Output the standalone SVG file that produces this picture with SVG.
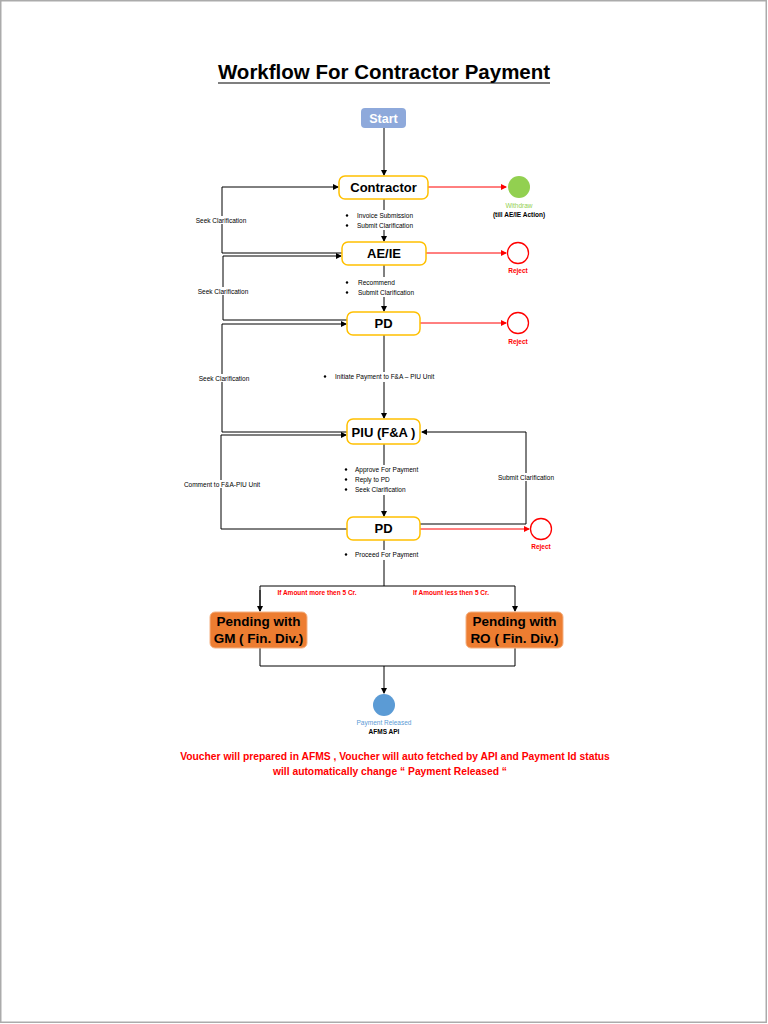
<svg xmlns="http://www.w3.org/2000/svg" width="768" height="1024" viewBox="0 0 768 1024">
<defs>
<marker id="ab" markerWidth="6" markerHeight="6" refX="5" refY="3" orient="auto" markerUnits="userSpaceOnUse"><path d="M0,0 L6,3 L0,6 z" fill="#000"/></marker>
<marker id="ar" markerWidth="6" markerHeight="6" refX="5" refY="3" orient="auto" markerUnits="userSpaceOnUse"><path d="M0,0 L6,3 L0,6 z" fill="#FF0000"/></marker>
<style>
text{font-family:"Liberation Sans",Arial,sans-serif}
.ln{fill:none;stroke:#000;stroke-width:1}
.rl{fill:none;stroke:#FF0000;stroke-width:1}
.box{fill:#fff;stroke:#FFC000;stroke-width:1.5}
.bt{font-size:13px;font-weight:bold;text-anchor:middle;fill:#000}
.sm{font-size:6.5px;fill:#000}
.lb{font-size:6.5px;fill:#000;text-anchor:middle}
.rj{font-size:6.5px;font-weight:bold;fill:#FF0000;text-anchor:middle}
.rc{fill:#fff;stroke:#FF0000;stroke-width:1.3}
.org{fill:#ED7D31;stroke:#F4B183;stroke-width:1}
.ot{font-size:13.5px;font-weight:bold;text-anchor:middle;fill:#000}
.wb{fill:#fff}
</style>
</defs>
<rect x="0" y="0" width="768" height="1024" fill="#fff"/>
<rect x="0.75" y="0.75" width="765.5" height="1021.5" fill="none" stroke="#ABABAB" stroke-width="1.5"/>

<g id="title">
<text x="384" y="79" font-size="20.5" font-weight="bold" text-anchor="middle" fill="#000">Workflow For Contractor Payment</text>
<line x1="218" y1="83" x2="550" y2="83" stroke="#000" stroke-width="1.2"/>
</g>

<g id="connectors">
<line class="ln" x1="384" y1="128" x2="384" y2="175" marker-end="url(#ab)"/>
<line class="ln" x1="384" y1="199" x2="384" y2="241" marker-end="url(#ab)"/>
<line class="ln" x1="384" y1="265" x2="384" y2="311" marker-end="url(#ab)"/>
<line class="ln" x1="384" y1="335" x2="384" y2="418" marker-end="url(#ab)"/>
<line class="ln" x1="384" y1="444" x2="384" y2="516" marker-end="url(#ab)"/>
<polyline class="ln" points="384,540 384,586"/>
<polyline class="ln" points="260,611 260,586 515,586 515,611" marker-end="url(#ab)"/>
<line class="ln" x1="260" y1="590" x2="260" y2="611" marker-end="url(#ab)"/>
<polyline class="ln" points="260,648 260,666 515,666 515,648"/>
<line class="ln" x1="384" y1="666" x2="384" y2="693" marker-end="url(#ab)"/>
<polyline class="ln" points="342,253 222,253 222,187 338,187" marker-end="url(#ab)"/>
<polyline class="ln" points="347,320 223,320 223,256 341,256" marker-end="url(#ab)"/>
<polyline class="ln" points="347,432 222,432 222,324 346,324" marker-end="url(#ab)"/>
<polyline class="ln" points="347,529 221,529 221,435 346,435" marker-end="url(#ab)"/>
<polyline class="ln" points="420,524 526,524 526,432 422,432" marker-end="url(#ab)"/>
<line class="rl" x1="428" y1="187" x2="506" y2="187" marker-end="url(#ar)"/>
<line class="rl" x1="426" y1="253" x2="506" y2="253" marker-end="url(#ar)"/>
<line class="rl" x1="420" y1="323" x2="506" y2="323" marker-end="url(#ar)"/>
<line class="rl" x1="420" y1="529" x2="529" y2="529" marker-end="url(#ar)"/>
</g>

<g id="labels">
<rect class="wb" x="192" y="216" width="58" height="8"/>
<text class="lb" x="221" y="223">Seek Clarification</text>
<rect class="wb" x="195" y="287" width="58" height="8"/>
<text class="lb" x="223" y="294">Seek Clarification</text>
<rect class="wb" x="196" y="374" width="58" height="8"/>
<text class="lb" x="224" y="381">Seek Clarification</text>
<rect class="wb" x="179" y="480" width="86" height="8"/>
<text class="lb" x="222" y="487">Comment to F&amp;A-PIU Unit</text>
<rect class="wb" x="494" y="473" width="64" height="8"/>
<text class="lb" x="526" y="480">Submit Clarification</text>

<rect class="wb" x="342" y="210" width="80" height="20"/>
<circle cx="347" cy="215.5" r="1.2"/><text class="sm" x="357" y="218">Invoice Submission</text>
<circle cx="347" cy="225.5" r="1.2"/><text class="sm" x="357" y="228">Submit Clarification</text>
<rect class="wb" x="342" y="277" width="80" height="20"/>
<circle cx="347" cy="282.5" r="1.2"/><text class="sm" x="358" y="285">Recommend</text>
<circle cx="347" cy="292.5" r="1.2"/><text class="sm" x="358" y="295">Submit Clarification</text>
<rect class="wb" x="320" y="372" width="127" height="10"/>
<circle cx="325" cy="376.5" r="1.2"/><text class="sm" x="335" y="379">Initiate Payment to F&amp;A – PIU Unit</text>
<rect class="wb" x="342" y="465" width="84" height="30"/>
<circle cx="346" cy="469.5" r="1.2"/><text class="sm" x="355" y="472">Approve For Payment</text>
<circle cx="346" cy="479.5" r="1.2"/><text class="sm" x="355" y="482">Reply to PD</text>
<circle cx="346" cy="489.5" r="1.2"/><text class="sm" x="355" y="492">Seek Clarification</text>
<rect class="wb" x="342" y="550" width="84" height="10"/>
<circle cx="346" cy="554.5" r="1.2"/><text class="sm" x="355" y="557">Proceed For Payment</text>
<text class="rj" x="317" y="595">If Amount more then 5 Cr.</text>
<text class="rj" x="451" y="595">If Amount less then 5 Cr.</text>
</g>

<g id="start">
<rect x="361" y="108" width="45" height="20" rx="4" fill="#8EA9DB"/>
<text x="383.5" y="122.5" font-size="12.5" font-weight="bold" fill="#fff" text-anchor="middle">Start</text>
</g>
<g id="contractor">
<rect class="box" x="339" y="176" width="89" height="23" rx="6"/>
<text class="bt" x="383.5" y="192">Contractor</text>
</g>
<g id="aeie">
<rect class="box" x="342" y="242" width="84" height="23" rx="6"/>
<text class="bt" x="384" y="258">AE/IE</text>
</g>
<g id="pd1">
<rect class="box" x="347" y="312" width="73" height="23" rx="6"/>
<text class="bt" x="383.5" y="328">PD</text>
</g>
<g id="piu">
<rect class="box" x="347" y="419" width="73" height="25" rx="6"/>
<text class="bt" x="383.5" y="436.5" font-size="14">PIU (F&amp;A )</text>
</g>
<g id="pd2">
<rect class="box" x="347" y="517" width="73" height="23" rx="6"/>
<text class="bt" x="383.5" y="533">PD</text>
</g>
<g id="withdraw">
<circle cx="519" cy="187" r="11" fill="#92D050"/>
<text x="519" y="208" font-size="6.5" fill="#92D050" text-anchor="middle">Withdraw</text>
<text x="519" y="217" font-size="6.5" font-weight="bold" fill="#000" text-anchor="middle">(till AE/IE Action)</text>
</g>
<g id="reject1">
<circle class="rc" cx="518" cy="253" r="10.5"/>
<text class="rj" x="518" y="273">Reject</text>
</g>
<g id="reject2">
<circle class="rc" cx="518" cy="323" r="10.5"/>
<text class="rj" x="518" y="344">Reject</text>
</g>
<g id="reject3">
<circle class="rc" cx="541" cy="529" r="10.5"/>
<text class="rj" x="541" y="549">Reject</text>
</g>
<g id="gm">
<rect class="org" x="210" y="612" width="97" height="36" rx="5"/>
<text class="ot" x="258.5" y="626">Pending with</text>
<text class="ot" x="258.5" y="643">GM ( Fin. Div.)</text>
</g>
<g id="ro">
<rect class="org" x="466" y="612" width="97" height="36" rx="5"/>
<text class="ot" x="514.5" y="626">Pending with</text>
<text class="ot" x="514.5" y="643">RO ( Fin. Div.)</text>
</g>
<g id="released">
<circle cx="384" cy="705" r="11" fill="#5B9BD5"/>
<text x="384" y="725" font-size="6.5" fill="#5B9BD5" text-anchor="middle">Payment Released</text>
<text x="384" y="734" font-size="6.5" font-weight="bold" fill="#000" text-anchor="middle">AFMS API</text>
</g>
<g id="note">
<text x="395" y="760" font-size="10.3" font-weight="bold" fill="#FF0000" text-anchor="middle">Voucher will prepared in AFMS ,  Voucher will auto fetched by API and Payment Id status</text>
<text x="390" y="775" font-size="10.3" font-weight="bold" fill="#FF0000" text-anchor="middle">will automatically change “ Payment Released “</text>
</g>
</svg>
